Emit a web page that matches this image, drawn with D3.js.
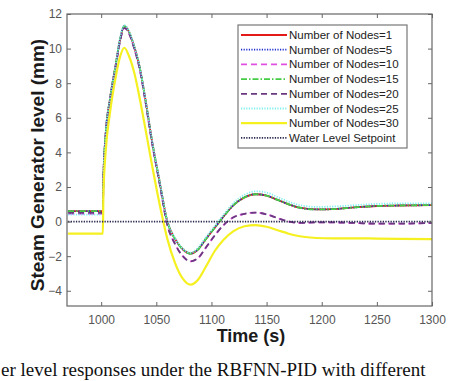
<!DOCTYPE html>
<html><head><meta charset="utf-8">
<script src="https://cdn.jsdelivr.net/npm/d3@7"></script>
<style>body{margin:0;background:#fff}svg{display:block}</style>
</head><body>
<svg id="c" width="474" height="381"></svg>
<script>
// ---- data ----
const time = [970, 1001.5, 1002, 1004, 1008, 1013, 1017, 1021, 1025, 1030, 1035, 1040, 1046, 1053, 1060, 1067, 1074, 1081, 1088, 1095, 1103, 1111, 1120, 1130, 1140, 1150, 1160, 1170, 1180, 1195, 1210, 1230, 1250, 1270, 1300];
const nodes1  = [0.6, 0.6, 2.5, 5.0, 7.1, 9.0, 10.5, 11.3, 11.0, 10.1, 8.9, 7.1, 4.7, 2.3, 0.0, -1.0, -1.6, -1.85, -1.6, -1.0, -0.35, 0.3, 0.95, 1.4, 1.58, 1.5, 1.25, 1.0, 0.8, 0.7, 0.72, 0.82, 0.9, 0.93, 0.95];
const nodes5  = [0.6, 0.6, 2.5, 5.0, 7.1, 9.0, 10.5, 11.3, 11.0, 10.1, 8.9, 7.1, 4.7, 2.3, 0.0, -1.0, -1.6, -1.85, -1.6, -1.0, -0.35, 0.3, 0.95, 1.4, 1.58, 1.5, 1.25, 1.0, 0.8, 0.7, 0.72, 0.82, 0.9, 0.93, 0.95];
const nodes10 = [0.45, 0.45, 2.4, 4.9, 7.0, 8.9, 10.4, 11.2, 10.9, 10.0, 8.8, 7.0, 4.6, 2.2, -0.2, -1.3, -2.0, -2.3, -2.1, -1.5, -0.8, -0.2, 0.25, 0.45, 0.52, 0.42, 0.2, 0.0, -0.08, -0.05, -0.05, -0.08, -0.12, -0.12, -0.08];
const nodes15 = [0.6, 0.6, 2.5, 5.0, 7.1, 9.0, 10.5, 11.3, 11.0, 10.1, 8.9, 7.1, 4.7, 2.3, 0.0, -1.0, -1.6, -1.85, -1.6, -1.0, -0.35, 0.3, 0.95, 1.4, 1.58, 1.5, 1.25, 1.0, 0.8, 0.7, 0.72, 0.82, 0.9, 0.93, 0.95];
const nodes20 = [0.5, 0.5, 2.4, 4.9, 7.0, 8.9, 10.4, 11.2, 10.9, 10.0, 8.8, 7.0, 4.6, 2.2, -0.2, -1.3, -2.0, -2.3, -2.1, -1.5, -0.8, -0.2, 0.25, 0.45, 0.52, 0.42, 0.2, 0.0, -0.08, -0.05, -0.05, -0.08, -0.12, -0.12, -0.08];
const nodes25 = [0.4, 0.4, 2.5, 5.0, 7.1, 9.0, 10.6, 11.35, 11.05, 10.15, 8.95, 7.15, 4.75, 2.35, 0.05, -0.95, -1.55, -1.8, -1.5, -0.9, -0.25, 0.4, 1.08, 1.55, 1.75, 1.68, 1.42, 1.15, 0.95, 0.85, 0.87, 0.95, 1.02, 1.05, 1.05];
const nodes30 = [-0.7, -0.7, 1.5, 4.0, 6.3, 8.3, 9.5, 10.05, 9.6, 8.6, 7.1, 5.4, 3.3, 1.0, -1.0, -2.4, -3.3, -3.65, -3.35, -2.6, -1.7, -1.05, -0.55, -0.27, -0.2, -0.3, -0.5, -0.7, -0.85, -0.95, -0.97, -0.97, -0.98, -1.0, -1.02];
const setpointTime = [970, 1300];
const setpoint = [0, 0];
const xTicks = [1000, 1050, 1100, 1150, 1200, 1250, 1300];
const yTicks = [-4, -2, 0, 2, 4, 6, 8, 10, 12];
const seriesNames = ["Number of Nodes=1", "Number of Nodes=5", "Number of Nodes=10", "Number of Nodes=15", "Number of Nodes=20", "Number of Nodes=25", "Number of Nodes=30", "Water Level Setpoint"];

// ---- styles ----
const styles = [
  {c: "#e41a1a", d: null, w: 1.8},
  {c: "#1f2fd0", d: "1.2,1.4", w: 1.8},
  {c: "#e050e0", d: "6,4", w: 1.8},
  {c: "#44cc44", d: "6,2,1.5,2", w: 1.8},
  {c: "#6a3a80", d: "6,4", w: 1.8},
  {c: "#7ff0ee", d: "1.2,1.4", w: 1.8},
  {c: "#f5f020", d: null, w: 2.2},
  {c: "#2a2a50", d: "1.3,1.3", w: 1.8}
];
const vals = [nodes1, nodes5, nodes10, nodes15, nodes20, nodes25, nodes30];

const svg = d3.select("#c");
const L = 67, R = 432, T = 14, B = 306;
const x = d3.scaleLinear().domain([969, 1300]).range([L, R]);
const y = d3.scaleLinear().domain([-4.88, 12]).range([B, T]);

const g = svg.append("g");
svg.append("clipPath").attr("id", "pc").append("rect").attr("x", L).attr("y", T).attr("width", R - L).attr("height", B - T);

const line = d3.line().x(d => x(d[0])).y(d => y(d[1])).curve(d3.curveMonotoneX);
const plot = g.append("g").attr("clip-path", "url(#pc)");
vals.forEach((v, i) => {
  const pts = time.map((t, k) => [t, v[k]]);
  plot.append("path").attr("d", line(pts)).attr("fill", "none")
    .attr("stroke", styles[i].c).attr("stroke-width", styles[i].w)
    .attr("stroke-dasharray", styles[i].d);
});
plot.append("path").attr("d", line(setpointTime.map((t, k) => [t, setpoint[k]])))
  .attr("fill", "none").attr("stroke", styles[7].c).attr("stroke-width", styles[7].w)
  .attr("stroke-dasharray", styles[7].d);

// ---- axes (MATLAB-like box with inward ticks) ----
const axCol = "#666";
const fontT = "Arial, 'Liberation Sans', sans-serif";
const xb = g.append("g").attr("transform", `translate(0,${B})`)
  .call(d3.axisBottom(x).tickValues(xTicks).tickFormat(d3.format("d")).tickSizeInner(-4).tickSizeOuter(0).tickPadding(9));
const xt = g.append("g").attr("transform", `translate(0,${T})`)
  .call(d3.axisTop(x).tickValues(xTicks).tickSizeInner(-4).tickSizeOuter(0).tickFormat(""));
const yl = g.append("g").attr("transform", `translate(${L},0)`)
  .call(d3.axisLeft(y).tickValues(yTicks).tickFormat(d3.format("d")).tickSizeInner(-4).tickSizeOuter(0).tickPadding(5));
const yr = g.append("g").attr("transform", `translate(${R},0)`)
  .call(d3.axisRight(y).tickValues(yTicks).tickSizeInner(-4).tickSizeOuter(0).tickFormat(""));
[xb, xt, yl, yr].forEach(a => {
  a.selectAll(".domain").remove();
  a.selectAll("line").attr("stroke", axCol);
  a.selectAll("text").attr("fill", "#555").style("font-family", fontT).style("font-size", "12px");
});
g.append("rect").attr("x", L).attr("y", T).attr("width", R - L).attr("height", B - T)
  .attr("fill", "none").attr("stroke", axCol).attr("stroke-width", 1.2);

// axis labels
svg.append("text").attr("x", 251).attr("y", 342).attr("text-anchor", "middle")
  .style("font-family", fontT).style("font-weight", "bold").style("font-size", "18px").attr("fill", "#1a1a1a")
  .text("Time (s)");
svg.append("text").attr("transform", `translate(44,${(T + B) / 2 + 5}) rotate(-90)`).attr("text-anchor", "middle")
  .style("font-family", fontT).style("font-weight", "bold").style("font-size", "19px").attr("fill", "#1a1a1a")
  .text("Steam Generator level (mm)");

// ---- legend ----
const lg = svg.append("g");
const lx = 238, ly = 25, lw = 169, lh = 123;
lg.append("rect").attr("x", lx).attr("y", ly).attr("width", lw).attr("height", lh)
  .attr("fill", "#fff").attr("stroke", "#777").attr("stroke-width", 1.2);
seriesNames.forEach((n, i) => {
  const yy = ly + 10 + i * 14.7;
  lg.append("line").attr("x1", lx + 3).attr("x2", lx + 49).attr("y1", yy).attr("y2", yy)
    .attr("stroke", styles[i].c).attr("stroke-width", styles[i].w).attr("stroke-dasharray", styles[i].d);
  lg.append("text").attr("x", lx + 51).attr("y", yy + 4).text(n)
    .style("font-family", fontT).style("font-size", "11.5px").attr("fill", "#222");
});

// caption (partly visible at the bottom in the reference)
svg.append("text").attr("x", 1).attr("y", 376)
  .style("font-family", "'Liberation Serif', 'Times New Roman', serif").style("font-size", "19px").attr("fill", "#111")
  .text("er level responses under the RBFNN-PID with different");
</script>
</body></html>
